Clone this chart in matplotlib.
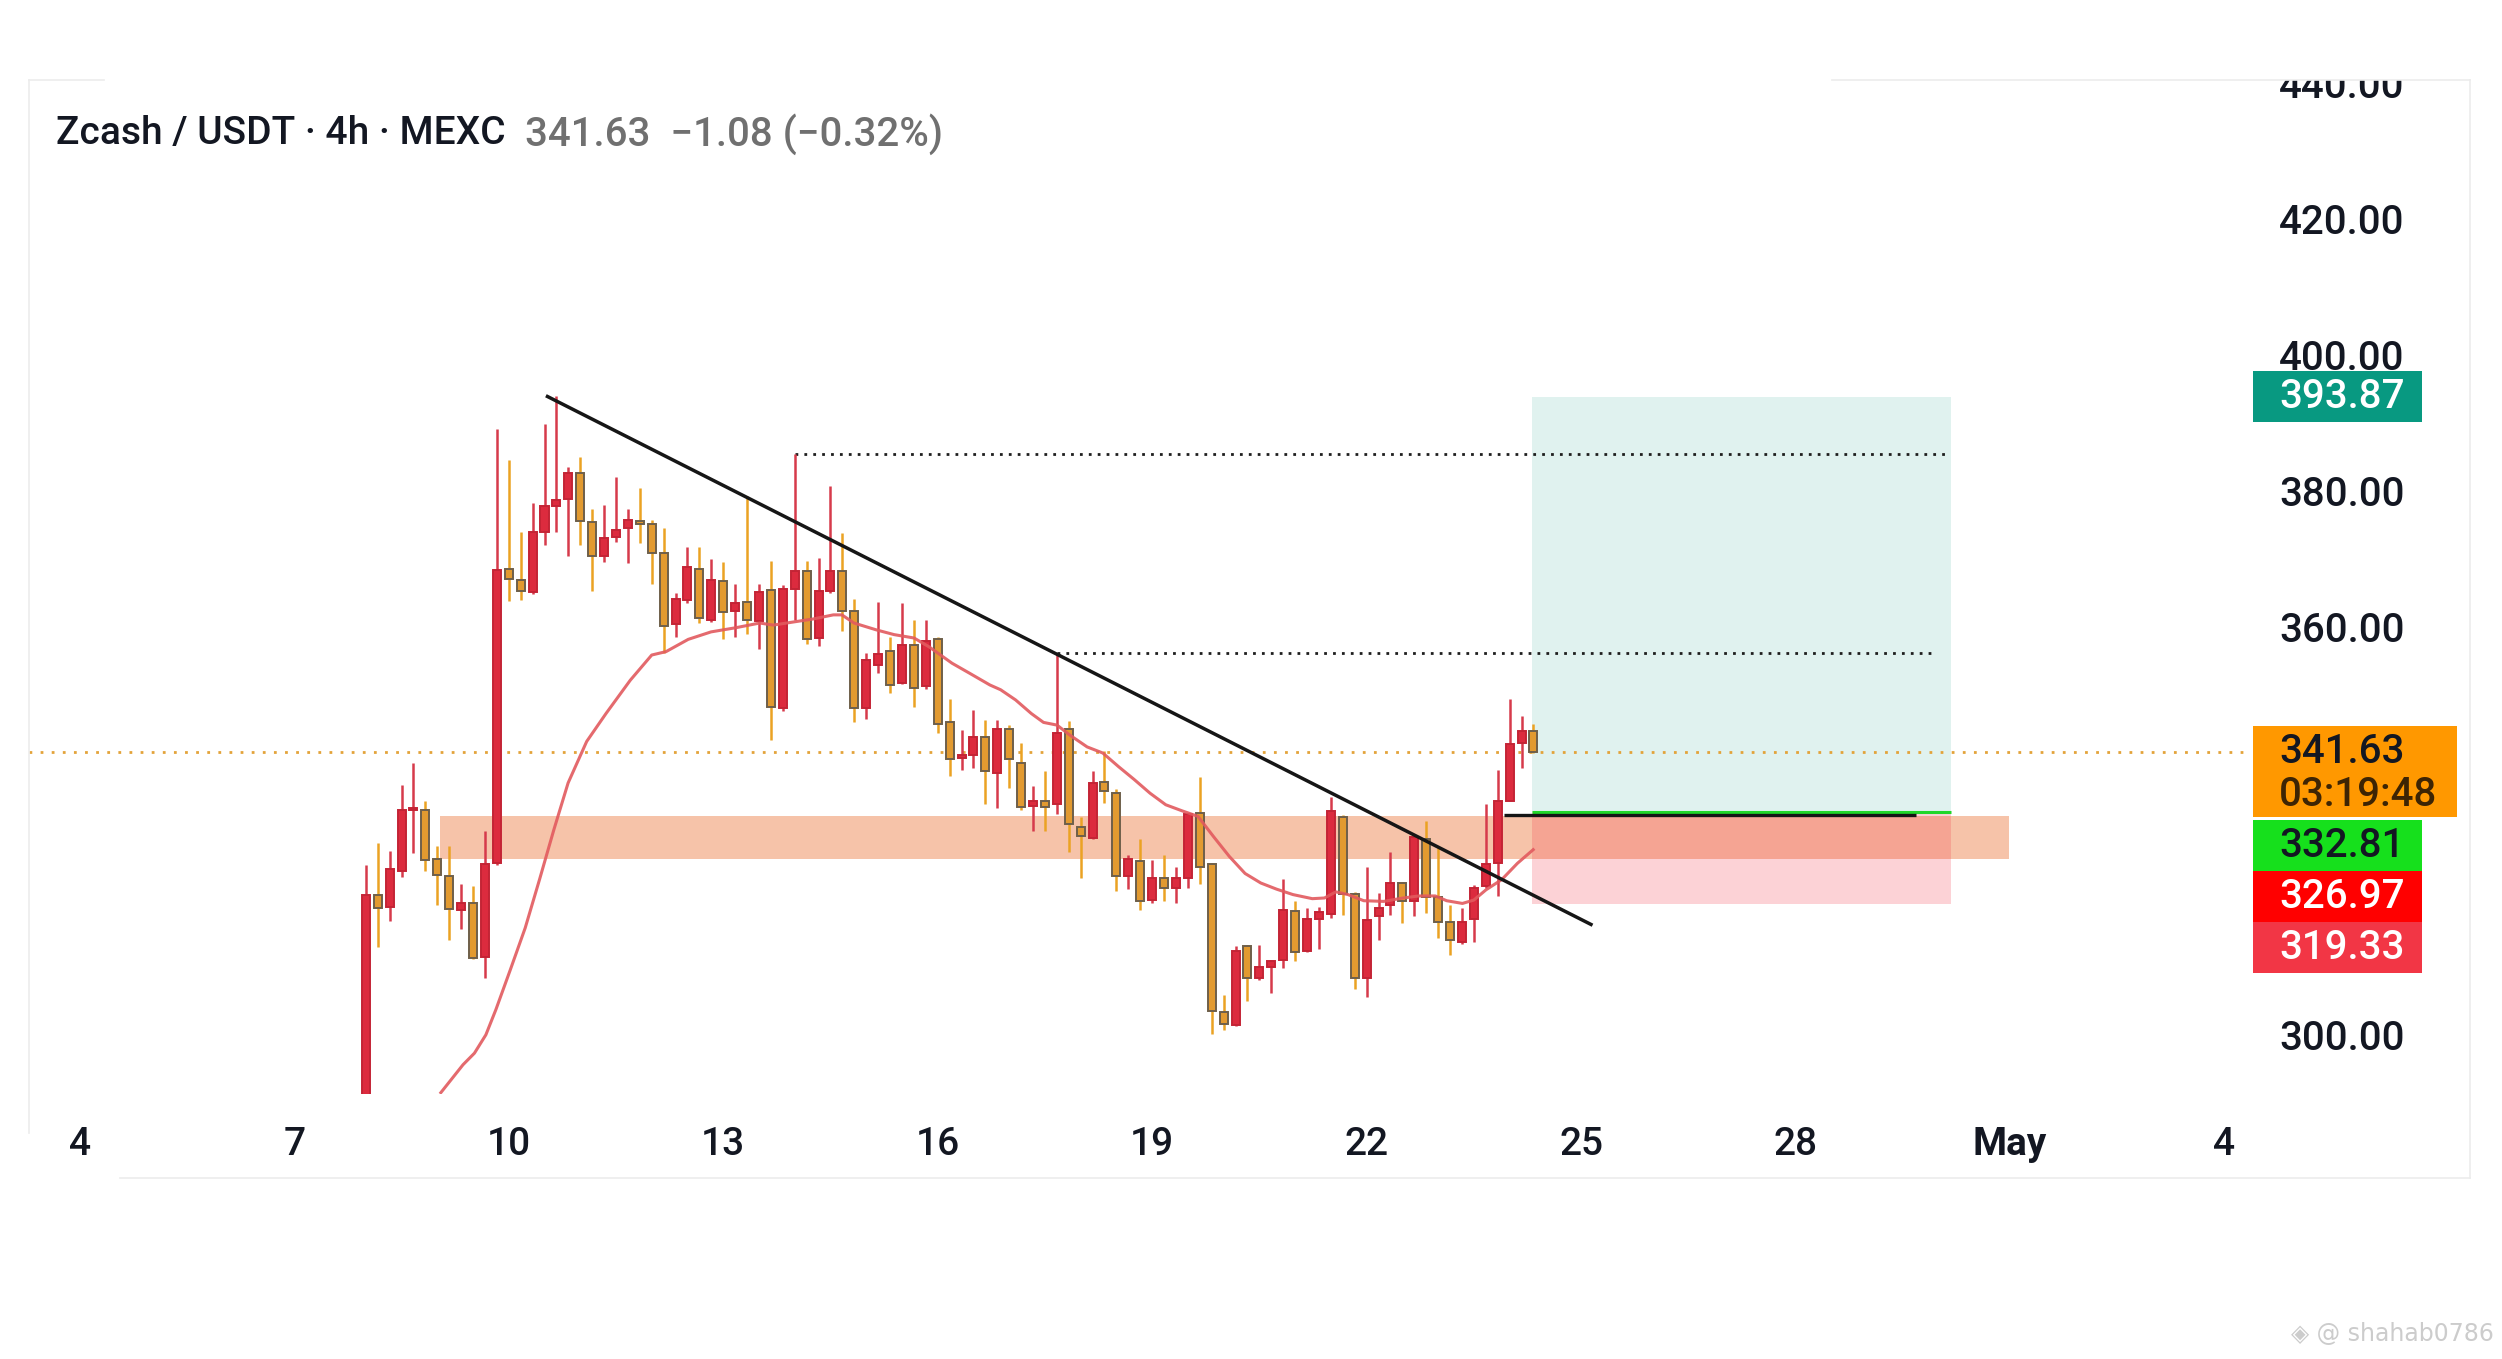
import matplotlib
matplotlib.use("Agg")
import matplotlib.pyplot as plt
from matplotlib.patches import Rectangle
from matplotlib.lines import Line2D
from matplotlib.transforms import blended_transform_factory

plt.rcParams['font.family'] = ['Roboto', 'DejaVu Sans']

# 4h candles, x axis is the day of April (May 1 = 31)
first_bar = 8.0
bar_step = 1 / 6

opens = [280.0, 320.7, 318.9, 324.2, 333.1, 333.2, 325.9, 323.5, 318.5, 319.5,
         311.6, 325.3, 368.5, 366.9, 365.1, 374.0, 377.8, 378.8, 382.6, 375.5,
         370.4, 373.2, 374.5, 375.6, 375.1, 370.9, 360.4, 364.0, 368.6, 361.1,
         366.8, 362.3, 363.7, 360.9, 365.4, 348.1, 365.6, 368.3, 358.4, 365.3,
         368.2, 362.3, 348.1, 354.4, 356.5, 351.8, 357.3, 351.4, 358.3, 346.0,
         340.7, 341.2, 343.8, 338.6, 345.1, 340.1, 333.7, 334.5, 334.0, 345.0,
         330.6, 329.0, 337.2, 335.7, 323.4, 325.7, 319.9, 323.1, 321.7, 323.2,
         332.7, 325.2, 303.4, 301.6, 313.1, 308.5, 310.1, 311.1, 318.3, 312.4,
         317.1, 317.9, 332.1, 320.8, 308.5, 317.5, 319.2, 322.4, 319.7, 328.8,
         320.4, 316.6, 313.8, 317.1, 321.9, 325.3, 334.5, 342.9, 344.7]
highs = [325.1, 328.3, 327.1, 336.8, 340.1, 334.5, 327.8, 327.8, 322.2, 322.0,
         330.0, 389.1, 384.6, 374.0, 378.2, 389.8, 394.0, 383.5, 385.0, 377.3,
         378.0, 382.0, 377.4, 380.5, 375.8, 374.5, 365.0, 371.7, 371.7, 370.0,
         369.6, 366.3, 379.3, 366.4, 369.7, 366.2, 385.4, 369.7, 370.1, 380.7,
         373.9, 364.1, 356.2, 363.7, 358.6, 363.5, 361.1, 361.1, 358.5, 349.5,
         344.9, 347.8, 346.4, 346.4, 345.6, 343.0, 336.6, 338.8, 356.2, 346.2,
         332.1, 338.9, 341.8, 336.2, 326.5, 328.8, 325.8, 326.5, 324.8, 332.7,
         338.0, 325.4, 306.0, 313.2, 313.3, 313.3, 311.1, 323.0, 319.8, 318.8,
         318.9, 335.1, 332.4, 321.1, 324.7, 321.0, 327.0, 322.6, 329.3, 331.5,
         327.5, 319.2, 318.7, 322.1, 334.0, 339.0, 349.4, 346.9, 345.7]
lows = [280.0, 313.0, 316.8, 323.3, 326.8, 324.1, 319.2, 314.1, 315.6, 311.2,
        308.5, 325.0, 363.8, 364.0, 364.9, 372.1, 374.0, 370.5, 372.1, 365.3,
        369.5, 372.5, 369.4, 372.3, 366.3, 356.2, 358.6, 363.6, 360.6, 360.8,
        358.3, 358.6, 359.0, 356.8, 343.4, 347.7, 361.1, 357.5, 357.2, 365.0,
        359.4, 346.0, 346.5, 353.2, 350.3, 351.6, 348.3, 350.9, 344.4, 338.1,
        339.0, 339.3, 334.0, 333.4, 336.3, 333.1, 330.1, 330.1, 332.6, 326.9,
        323.1, 328.8, 334.1, 321.3, 321.5, 318.4, 319.4, 319.8, 319.5, 321.6,
        322.2, 300.2, 300.8, 301.4, 305.1, 308.2, 306.3, 309.9, 310.9, 312.2,
        312.7, 317.2, 317.7, 306.8, 305.7, 314.0, 317.7, 316.5, 317.5, 318.0,
        314.3, 311.8, 313.5, 313.8, 321.6, 320.5, 334.4, 339.3, 341.5]
closes = [320.7, 318.7, 324.5, 333.1, 333.4, 325.8, 323.6, 318.6, 319.5, 311.4,
          325.2, 368.4, 367.0, 365.3, 374.0, 377.8, 378.7, 382.6, 375.6, 370.4,
          373.1, 374.3, 375.7, 375.2, 370.9, 360.2, 364.1, 368.8, 361.3, 366.9,
          362.2, 363.6, 361.1, 365.2, 348.3, 365.6, 368.2, 358.3, 365.3, 368.2,
          362.4, 348.1, 355.2, 356.0, 351.5, 357.4, 351.1, 358.0, 345.8, 340.6,
          341.2, 343.9, 338.8, 345.1, 340.6, 333.6, 334.4, 333.6, 344.5, 331.0,
          329.3, 337.1, 335.9, 323.4, 325.9, 319.8, 323.2, 321.6, 323.2, 332.5,
          324.8, 303.6, 301.7, 312.4, 308.4, 310.0, 311.0, 318.5, 312.2, 317.1,
          318.2, 333.0, 320.8, 308.5, 317.0, 318.8, 322.4, 319.7, 329.1, 320.3,
          316.7, 314.0, 316.7, 321.6, 325.2, 334.5, 342.8, 344.7, 341.63]

# moving average line
ma_days = [9.05, 9.36, 9.52, 9.68, 9.82, 10.02, 10.23, 10.43, 10.63, 10.83,
           11.09, 11.36, 11.70, 12.0, 12.20, 12.51, 12.83, 13.17, 13.51, 13.70,
           14.01, 14.26, 14.54, 14.66, 14.83, 15.14, 15.39, 15.67, 15.88, 16.20,
           16.45, 16.73, 16.88, 17.09, 17.31, 17.48, 17.67, 17.84, 18.09, 18.31,
           18.53, 18.75, 18.97, 19.19, 19.42, 19.64, 19.86, 20.08, 20.30, 20.52,
           20.74, 20.97, 21.24, 21.41, 21.57, 21.74, 21.96, 22.24, 22.51, 22.73,
           22.96, 23.12, 23.34, 23.50, 23.67, 23.89, 24.11, 24.33]
ma_values = [291.6, 295.7, 297.4, 300.1, 303.8, 309.6, 315.8, 322.9, 330.2, 337.1,
             343.2, 347.3, 352.2, 355.9, 356.4, 358.2, 359.3, 359.9, 360.6, 360.3,
             360.8, 361.2, 361.8, 361.8, 360.6, 359.6, 358.9, 358.4, 357.1, 354.7,
             353.2, 351.5, 350.8, 349.3, 347.3, 346.0, 345.6, 344.2, 342.4, 341.5,
             339.5, 337.6, 335.6, 333.9, 333.0, 332.2, 329.2, 326.3, 323.8, 322.4,
             321.5, 320.7, 320.1, 320.2, 321.1, 320.7, 319.8, 319.7, 320.2, 320.5,
             320.5, 319.8, 319.4, 319.9, 321.4, 322.9, 325.3, 327.3]

# drawings
trend_days = [10.52, 25.16]
trend_prices = [394.0, 316.2]
dotted_levels = [385.4, 356.2]
dotted_from = [14.0, 17.67]
dotted_to = [30.15, 29.94]
zone_low, zone_high = 326.0, 332.3
zone_from, zone_to = 9.04, 30.98
entry, target, stop = 332.81, 393.87, 319.33
pos_from, pos_to = 24.31, 30.18
entry_mark, mark_from, mark_to = 332.45, 23.92, 29.68
last_price = 341.63
countdown = "03:19:48"
extra_level = 326.97

xtick_days = [4, 7, 10, 13, 16, 19, 22, 25, 28, 31, 34]
xtick_labels = ['4', '7', '10', '13', '16', '19', '22', '25', '28', 'May', '4']
ytick_prices = [300, 360, 380, 400, 420, 440]

UP_FILL, UP_EDGE, UP_WICK = '#dc2b3e', '#c42435', '#d63a4b'
DN_FILL, DN_EDGE, DN_WICK = '#e29a30', '#6e5f4a', '#eba223'

W, H = 2502, 1359
fig = plt.figure(figsize=(W / 100, H / 100), dpi=100)
fig.patch.set_facecolor('white')
left, right, top, bottom = 29, 2250, 80, 1094
ax = fig.add_axes([left / W, 1 - bottom / H, (right - left) / W, (bottom - top) / H])
ax.set_xlim(3.289, 34.357)
ax.set_ylim(291.4, 440.39)
for s in ax.spines.values():
    s.set_visible(False)

# zone and position tool
ax.add_patch(Rectangle((zone_from, zone_low), zone_to - zone_from, zone_high - zone_low,
                       facecolor='#f6c3a9', edgecolor='none', zorder=1))
ax.add_patch(Rectangle((pos_from, entry), pos_to - pos_from, target - entry,
                       facecolor='#089981', alpha=0.12, edgecolor='none', zorder=2))
ax.add_patch(Rectangle((pos_from, stop), pos_to - pos_from, entry - stop,
                       facecolor='#f23645', alpha=0.22, edgecolor='none', zorder=2))
ax.plot([pos_from, pos_to], [entry, entry], color='#22d62a', lw=2.2, zorder=3,
        solid_capstyle='butt')
ax.plot([mark_from, mark_to], [entry_mark, entry_mark], color='#151515', lw=2.4, zorder=3,
        solid_capstyle='butt')

# dotted levels
for lvl, a, b in zip(dotted_levels, dotted_from, dotted_to):
    ax.plot([a, b], [lvl, lvl], color='#1e1e1e', lw=2.0, ls=(0, (1, 2.2)), zorder=3)
ax.axhline(last_price, color='#e3a33a', lw=2.0, ls=(0, (1, 3)), zorder=3)

# candles
xs = [first_bar + i * bar_step for i in range(len(opens))]
for x, o, h, l, c in zip(xs, opens, highs, lows, closes):
    up = c >= o
    ax.vlines(x, l, h, color=UP_WICK if up else DN_WICK, lw=1.8, zorder=4)
    ax.bar(x, abs(c - o), bottom=min(o, c), width=0.112,
           color=UP_FILL if up else DN_FILL, edgecolor=UP_EDGE if up else DN_EDGE,
           linewidth=1.4, zorder=5)

ax.plot(ma_days, ma_values, color='#e25a5e', lw=2.2, alpha=0.9, zorder=6)
ax.plot(trend_days, trend_prices, color='#161616', lw=2.5, zorder=7,
        solid_capstyle='butt')

# axes ticks
ax.yaxis.tick_right()
ax.set_yticks(ytick_prices)
ax.set_yticklabels([f'{p:.2f}' for p in ytick_prices])
ax.set_xticks(xtick_days)
ax.set_xticklabels(xtick_labels)
ax.tick_params(axis='y', length=0, pad=21, labelsize=29, labelcolor='#131722')
ax.tick_params(axis='x', length=0, pad=23, labelsize=28, labelcolor='#131722')
for t in ax.get_xticklabels() + ax.get_yticklabels():
    t.set_fontweight('medium')
ax.get_xticklabels()[9].set_fontweight('bold')

# price labels on the scale
tr = blended_transform_factory(ax.transAxes, ax.transData)
box_w = 169 / (right - left)
box_h = 7.49
text_x = 1 + 29 / (right - left)


def price_box(y0, y1, color, width=box_w):
    ax.add_patch(Rectangle((1.0014, y0), width, y1 - y0, transform=tr, clip_on=False,
                           facecolor=color, edgecolor='none', zorder=10))


price_box(target - box_h / 2, target + box_h / 2, '#089981')
ax.text(text_x, target, f'{target:.2f}', transform=tr, va='center', ha='left',
        fontsize=29, color='white', fontweight='medium', zorder=11, clip_on=False)

orange_top, orange_bot = 345.5, 332.1
price_box(orange_bot, orange_top, '#ff9800', width=204 / (right - left))
ax.text(text_x, last_price, f'{last_price:.2f}', transform=tr, va='center', ha='left',
        fontsize=29, color='#131722', fontweight='medium', zorder=11, clip_on=False)
ax.text(text_x, 335.4, countdown, transform=tr, va='center', ha='left',
        fontsize=29, color='#3d2404', fontweight='medium', zorder=11, clip_on=False)

stack = [(entry, '#16e01c', '#131722'), (extra_level, '#ff0000', 'white'),
         (stop, '#f23645', 'white')]
y_top = orange_bot - 0.5
for val, fc, tc in stack:
    price_box(y_top - box_h, y_top, fc)
    ax.text(text_x, y_top - box_h / 2, f'{val:.2f}', transform=tr, va='center', ha='left',
            fontsize=29, color=tc, fontweight='medium', zorder=11, clip_on=False)
    y_top -= box_h

# white mask above the chart frame (cuts the top price label like the screenshot)
fig.add_artist(Rectangle((0, 1 - top / H), 1, top / H, transform=fig.transFigure,
                         facecolor='white', edgecolor='none', zorder=20))

# faint screenshot frame
frame = '#ececec'
for xa, ya in [([29, 29], [80, 1133]), ([29, 104], [80, 80]), ([1832, 2470], [80, 80]),
               ([2470, 2470], [80, 1178]), ([120, 2470], [1178, 1178])]:
    fig.add_artist(Line2D([v / W for v in xa], [1 - v / H for v in ya],
                          transform=fig.transFigure, color=frame, lw=1.2, zorder=21))

# title
fig.text(56 / W, 1 - 134 / H, 'Zcash / USDT · 4h · MEXC', fontsize=28,
         fontweight='medium', color='#131722', va='center', ha='left', zorder=22)
fig.text(525 / W, 1 - 134 / H, '341.63  −1.08 (−0.32%)', fontsize=29,
         fontweight='medium', color='#707070', va='center', ha='left', zorder=22)

# watermark
fig.text(2494 / W, 1 - 1334 / H, '◈ @ shahab0786', fontsize=17, color='#cccccc',
         va='center', ha='right', family=['DejaVu Sans'], zorder=22)

fig.savefig('out.png', dpi=100, facecolor='white')
